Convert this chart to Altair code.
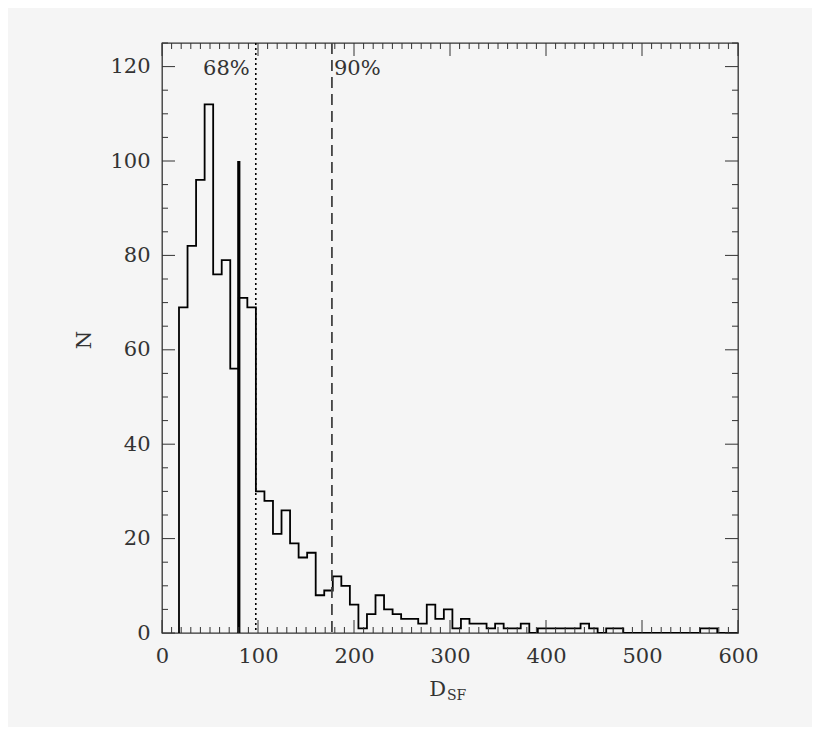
import altair as alt
import pandas as pd

# ---- data ----
bin_start = 17.7
bin_width = 8.9
counts = [69, 82, 96, 112, 76, 79, 56, 71, 69, 30,
          28, 21, 26, 19, 16, 17, 8, 9, 12, 10,
          6, 1, 4, 8, 5, 4, 3, 3, 2, 6,
          3, 5, 1, 3, 2, 2, 1, 2, 1, 1,
          2, 0, 1, 1, 1, 1, 1, 2, 1, 0,
          1, 1, 0, 0, 0, 0, 0, 0, 0, 0,
          0, 1, 1, 0, 0, 0]
median_x = [80]
median_top = [100]
pct_x = [97.7, 177]
pct_labels = ["68%", "90%"]
x_major = list(range(0, 601, 100))
x_minor = [v for v in range(0, 601, 10) if v % 100]
y_major = list(range(0, 121, 20))
y_minor = [v for v in range(0, 126, 5) if v % 20]

W, H = 576, 590
FONT = "DejaVu Serif"
TXT = "#333333"

xs = alt.Scale(domain=[0, 600], nice=False, zero=False)
ys = alt.Scale(domain=[0, 125], nice=False)

pts = [{"i": 0, "x": bin_start, "n": 0}]
for k, c in enumerate(counts):
    pts.append({"i": k + 1, "x": bin_start + bin_width * k, "n": c})
pts.append({"i": len(counts) + 1, "x": 600, "n": 0})
hist_df = pd.DataFrame(pts)

hist = alt.Chart(hist_df).mark_line(
    interpolate="step-after", color="black", strokeWidth=1.8, clip=True
).encode(
    x=alt.X("x:Q", scale=xs, axis=alt.Axis(
        values=x_major, ticks=False, domain=False, grid=False, title=None,
        labelFont=FONT, labelFontSize=21, labelColor=TXT, labelPadding=12,
        labelFlush=False)),
    y=alt.Y("n:Q", scale=ys, axis=alt.Axis(
        values=y_major, ticks=False, domain=False, grid=False, title=None,
        labelFont=FONT, labelFontSize=21, labelColor=TXT, labelPadding=12)),
    order="i:Q",
)

med = alt.Chart(pd.DataFrame({"x": median_x, "y0": [0], "y1": median_top})).mark_rule(
    color="black", strokeWidth=3.2
).encode(x=alt.X("x:Q", scale=xs), y=alt.Y("y0:Q", scale=ys), y2="y1:Q")

pct_df = pd.DataFrame({"x": pct_x, "lab": pct_labels, "kind": ["dot", "dash"]})
dotted = alt.Chart(pct_df.iloc[[0]]).mark_rule(
    color="black", strokeWidth=1.6, strokeDash=[2, 3]
).encode(x=alt.X("x:Q", scale=xs), y=alt.value(0), y2=alt.value(H))
dashed = alt.Chart(pct_df.iloc[[1]]).mark_rule(
    color="#444444", strokeWidth=1.8, strokeDash=[11, 6]
).encode(x=alt.X("x:Q", scale=xs), y=alt.value(0), y2=alt.value(H))

lab68 = alt.Chart(pct_df.iloc[[0]]).mark_text(
    align="right", baseline="middle", dx=-6, font=FONT, fontSize=21, color=TXT
).encode(x=alt.X("x:Q", scale=xs), y=alt.value(26), text="lab:N")
lab90 = alt.Chart(pct_df.iloc[[1]]).mark_text(
    align="left", baseline="middle", dx=2, font=FONT, fontSize=21, color=TXT
).encode(x=alt.X("x:Q", scale=xs), y=alt.value(26), text="lab:N")

TICK = "#333333"
def xticks(vals, length):
    df = pd.DataFrame({"x": vals})
    b = alt.Chart(df).mark_rule(color=TICK, strokeWidth=1).encode(
        x=alt.X("x:Q", scale=xs), y=alt.value(H), y2=alt.value(H - length))
    t = alt.Chart(df).mark_rule(color=TICK, strokeWidth=1).encode(
        x=alt.X("x:Q", scale=xs), y=alt.value(0), y2=alt.value(length))
    return [b, t]

def yticks(vals, length):
    df = pd.DataFrame({"y": vals})
    l = alt.Chart(df).mark_rule(color=TICK, strokeWidth=1).encode(
        y=alt.Y("y:Q", scale=ys), x=alt.value(0), x2=alt.value(length))
    r = alt.Chart(df).mark_rule(color=TICK, strokeWidth=1).encode(
        y=alt.Y("y:Q", scale=ys), x=alt.value(W), x2=alt.value(W - length))
    return [l, r]

ticks = xticks(x_major, 13) + xticks(x_minor, 6) + yticks(y_major, 13) + yticks(y_minor, 6)

one = pd.DataFrame({"a": [1]})
ntitle = alt.Chart(one).mark_text(
    angle=270, font=FONT, fontSize=21, color=TXT, baseline="middle", align="center"
).encode(x=alt.value(-77), y=alt.value(297), text=alt.value("N"))
dtitle = alt.Chart(one).mark_text(
    font=FONT, fontSize=21, color=TXT, baseline="alphabetic", align="right"
).encode(x=alt.value(284), y=alt.value(63 + H), text=alt.value("D"))
sftitle = alt.Chart(one).mark_text(
    font=FONT, fontSize=14, color=TXT, baseline="alphabetic", align="left"
).encode(x=alt.value(285), y=alt.value(67 + H), text=alt.value("SF"))

chart = alt.layer(
    hist, med, dotted, dashed, lab68, lab90, ntitle, dtitle, sftitle, *ticks
).properties(
    width=W, height=H,
    autosize=alt.AutoSizeParams(type="none"),
    padding={"left": 154, "top": 35, "right": 74, "bottom": 94},
    background="#f5f5f5",
).configure_view(stroke="#333333", strokeWidth=1.3)

chart.save("out.html", embed_options={"renderer": "svg", "actions": False})
